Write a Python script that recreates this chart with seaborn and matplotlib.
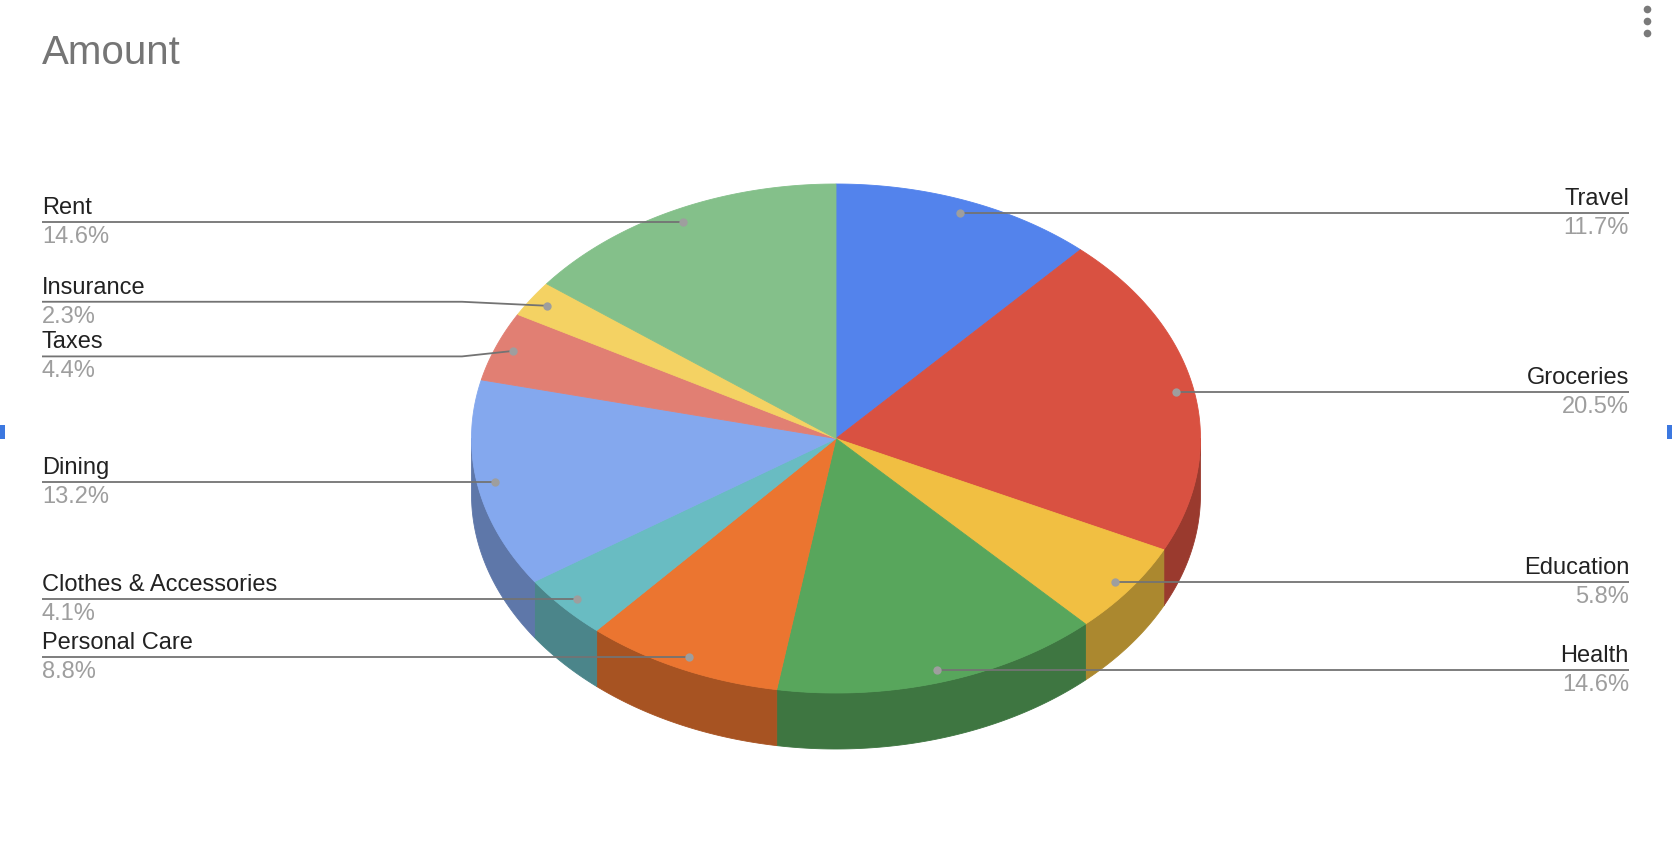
import numpy as np
import seaborn as sns
import matplotlib.pyplot as plt
from matplotlib.patches import Polygon

# data (clockwise from 12 o'clock)
categories = ["Travel", "Groceries", "Education", "Health", "Personal Care",
              "Clothes & Accessories", "Dining", "Taxes", "Insurance", "Rent"]
shares = [11.7, 20.5, 5.8, 14.6, 8.8, 4.1, 13.2, 4.4, 2.3, 14.6]
slice_colors = ["#5383EC", "#D95141", "#F1BF42", "#58A65C", "#EB7530",
                "#69BCC2", "#84A8EE", "#E17F73", "#F4D263", "#84C08A"]

sns.set_theme(style="white")
plt.rcParams['font.family'] = ['Liberation Sans', 'DejaVu Sans']

palette = sns.color_palette(slice_colors)
walls = [tuple(c * 0.71 for c in col) for col in palette]

fig = plt.figure(figsize=(16.72, 8.65), dpi=100)
ax = fig.add_axes([0, 0, 1, 1])
ax.set_xlim(0, 1672)
ax.set_ylim(865, 0)
ax.axis('off')

# tilted pie geometry (pixels)
cx, cy, rx, ry, depth = 836, 438.5, 364.5, 254.5, 56


def rim(theta, dy=0.0, f=1.0):
    t = np.radians(theta)
    return cx + f * rx * np.sin(t), cy - f * ry * np.cos(t) + dy


total = sum(shares)
bounds = np.concatenate([[0], np.cumsum(shares)]) / total * 360

# side walls on the visible front half
for i in range(len(shares)):
    a0, a1 = max(bounds[i], 90), min(bounds[i + 1], 270)
    if a1 <= a0:
        continue
    th = np.linspace(a0, a1, 100)
    xt, yt = rim(th)
    xb, yb = rim(th[::-1], dy=depth)
    pts = np.column_stack([np.r_[xt, xb], np.r_[yt, yb]])
    ax.add_patch(Polygon(pts, closed=True, fc=walls[i], ec=walls[i], lw=0.6))

# top faces
for i in range(len(shares)):
    th = np.linspace(bounds[i], bounds[i + 1], 200)
    xt, yt = rim(th)
    pts = np.column_stack([np.r_[cx, xt], np.r_[cy, yt]])
    ax.add_patch(Polygon(pts, closed=True, fc=palette[i], ec=palette[i], lw=0.6))

# labels with leader lines
line_col = "#737373"
dot_col = "#9E9E9E"
label_shift = {"Insurance": -4, "Taxes": 5.5}
for i, name in enumerate(categories):
    mid = (bounds[i] + bounds[i + 1]) / 2
    dx, dy = rim(mid, f=0.95)
    ly = dy + label_shift.get(name, 0)
    right = dx > cx
    if right:
        xs, ys = [dx, 1629], [ly, ly]
        tx, ha = 1629, 'right'
    else:
        if name in label_shift:
            xs, ys = [42, 462, dx], [ly, ly, dy]
        else:
            xs, ys = [42, dx], [ly, ly]
        tx, ha = 42, 'left'
    ax.plot(xs, ys, color=line_col, lw=1.3, solid_capstyle='butt', zorder=3)
    ax.plot([dx], [dy], 'o', color=dot_col, ms=6, mec='none', zorder=4)
    ax.text(tx, ly - 8, name, ha=ha, va='baseline', fontsize=17, color="#222222")
    ax.text(tx, ly + 4, f"{shares[i] / total * 100:.1f}%", ha=ha, va='top',
            fontsize=17, color="#9E9E9E")

ax.text(42, 64, "Amount", ha='left', va='baseline', fontsize=29, color="#757575")

# menu dots and selection handles
ax.plot([1647, 1647, 1647], [9, 21, 33], 'o', color="#7A7A7A", ms=5.5, mec='none')
ax.add_patch(plt.Rectangle((0, 425), 5, 14, color="#3C78E0", lw=0))
ax.add_patch(plt.Rectangle((1667, 425), 5, 14, color="#3C78E0", lw=0))

fig.savefig("out.png", dpi=100, facecolor="white")
